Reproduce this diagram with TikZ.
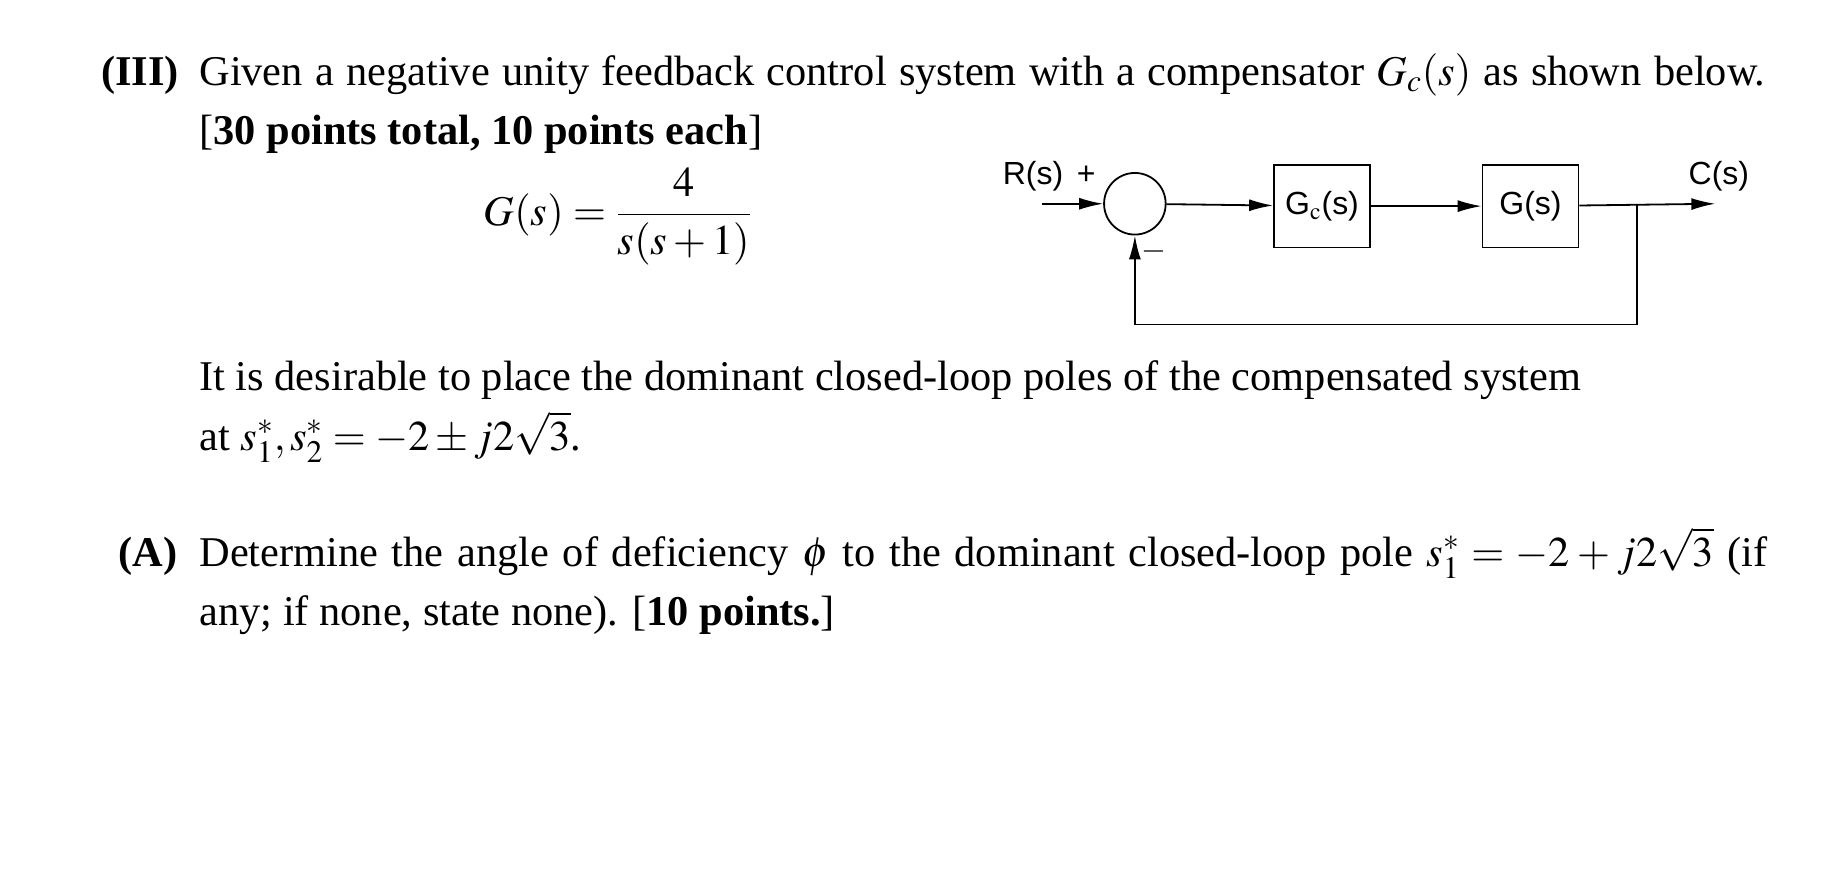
\documentclass[tikz,border=0pt]{standalone}
\usepackage{mathptmx}
\usepackage{fontspec}
\setmainfont{Liberation Serif}
\newfontfamily\diagfont{Liberation Sans}
\usetikzlibrary{arrows.meta}
\begin{document}
\begin{tikzpicture}[x=0.5925pt,y=-0.5925pt,
  txt/.style={anchor=base west,inner sep=0,font=\fontsize{21.2}{25}\selectfont},
  dg/.style={font=\diagfont\fontsize{16}{19}\selectfont,inner sep=0},
  blk/.style={draw,line width=0.9pt,minimum width=81*0.5925pt,minimum height=70*0.5925pt,inner sep=0,font=\diagfont\fontsize{16}{19}\selectfont},
  sig/.style={line width=0.9pt,-{Latex[length=12pt,width=6pt]}},
  ln/.style={line width=0.9pt}]
\useasboundingbox (0,0) rectangle (1560,741);
\node[txt] (t1) at (85,72) {\textbf{(III)}};
\node[txt] (t2) at (168,72) {\hbox to 1322\dimexpr0.5925pt\relax{Given a negative unity feedback control system with a compensator $G_c(s)$ as shown below.}};
\node[txt] (t3) at (168,122) {[\textbf{30 points total, 10 points each}]};
\node[anchor=base west,inner sep=0,font=\fontsize{21.2}{25}\selectfont] (geq) at (408,190) {$\displaystyle G(s)=\frac{4}{s(s+1)}$};
% block diagram
\node[draw,circle,line width=0.9pt,minimum size=52*0.5925pt,inner sep=0] (sum) at (958,172) {};
\node[blk] (gc) at (1116,174) {G$_{\mathrm c}$(s)};
\node[blk] (g) at (1292,174) {G(s)};
\coordinate (in) at (880,172);
\coordinate (out) at (1448,172);
\coordinate (br) at (1382,172);
\coordinate (fb) at (1382,274);
\coordinate (fb2) at (958,274);
\node[dg,anchor=base] (rl) at (872,156) {R(s)};
\node[dg,anchor=base] (pl) at (917,156) {+};
\node[dg,anchor=base] (cl) at (1451,156) {C(s)};
\node[dg] (ml) at (974,212) {$-$};
\draw[sig] (in) -- (sum);
\draw[sig] (sum) -- (gc);
\draw[sig] (gc) -- (g);
\draw[sig] (g) -- (out);
\draw[ln] (br) -- (fb) -- (fb2);
\draw[sig] (fb2) -- (sum);
\node[txt] (p1) at (168,330) {It is desirable to place the dominant closed-loop poles of the compensated system};
\node[txt] (p2) at (168,380) {at $s_1^*,s_2^*=-2\pm j2\sqrt{3}$.};
\node[txt] (a1) at (100,478) {\textbf{(A)}};
\node[txt] (a2) at (168,478) {\hbox to 1324\dimexpr0.5925pt\relax{Determine the angle of deficiency $\phi$ to the dominant closed-loop pole $s_1^*=-2+j2\sqrt{3}$ (if}};
\node[txt] (a3) at (168,528) {any; if none, state none). [\textbf{10 points.}]};
\end{tikzpicture}
\end{document}
